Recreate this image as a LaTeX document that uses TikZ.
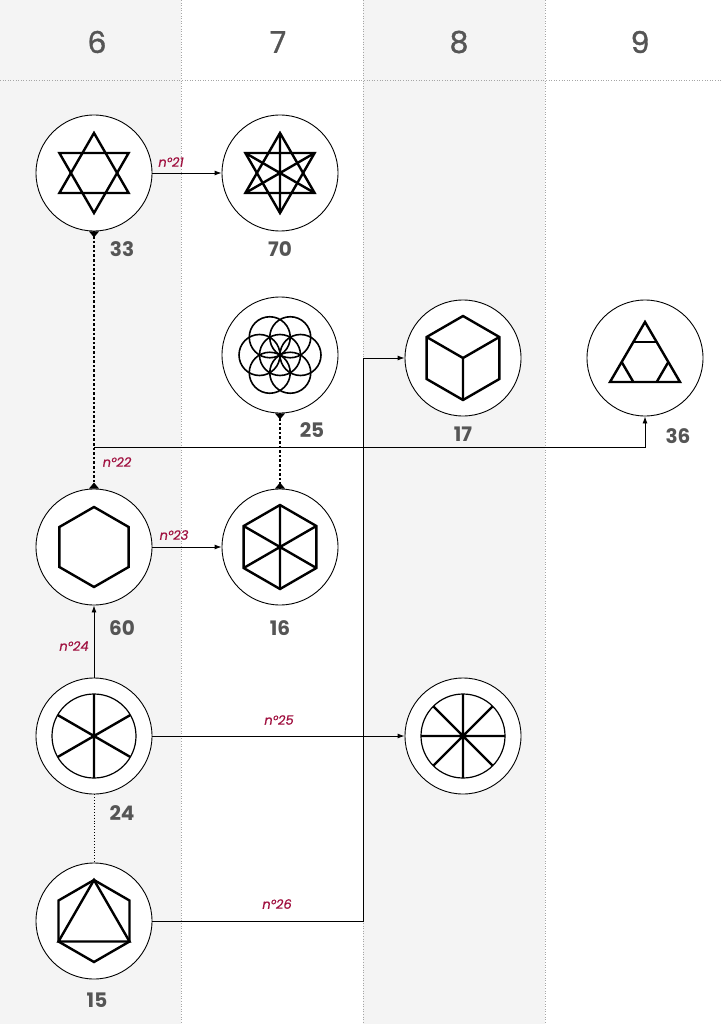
\documentclass[tikz,border=0pt]{standalone}
\usepackage{fontspec}
\setmainfont{Poppins}
\usetikzlibrary{arrows.meta}
\definecolor{bgg}{HTML}{F4F4F4}
\definecolor{numc}{HTML}{555555}
\definecolor{lblc}{HTML}{A0103F}
\begin{document}
\begin{tikzpicture}[x=1pt,y=-1pt,
  ring/.style={circle,draw=black,line width=0.9pt,fill=white,minimum size=116pt,inner sep=0pt},
  icon/.style={line width=2.4pt,line join=miter},
  num/.style={font=\bfseries\fontsize{20}{20}\selectfont,text=numc},
  head/.style={font=\fontsize{30}{30}\selectfont\addfontfeatures{FakeBold=1.2},text=numc},
  lbl/.style={font=\itshape\fontsize{13}{13}\selectfont\addfontfeatures{FakeBold=0.6},text=lblc},
  conn/.style={line width=0.9pt,-{Latex[length=7pt,width=5pt]}},
  dots/.style={line width=2.6pt,dotted},
  sep/.style={gray!70,line width=0.6pt,dotted}]
\useasboundingbox (0,0) rectangle (722,1024);
\fill[white] (0,0) rectangle (722,1024);
\fill[bgg] (0,0) rectangle (181,1024);
\fill[bgg] (363,0) rectangle (545,1024);
\draw[sep] (181,0) -- (181,1024);
\draw[sep] (363,0) -- (363,1024);
\draw[sep] (545,0) -- (545,1024);
\draw[sep] (0,80) -- (722,80);
\node[head] (h6) at (97,42) {6};
\node[head] (h7) at (278,42) {7};
\node[head] (h8) at (459,42) {8};
\node[head] (h9) at (640,42) {9};

\coordinate (j22) at (94,447);
\coordinate (c36) at (645,447);
\coordinate (k26a) at (363,921);
\coordinate (k26b) at (363,358);

\node[ring] (n33) at (94,173) {};
\node[ring] (n70) at (280,173) {};
\node[ring] (n25) at (280,355) {};
\node[ring] (n17) at (463,358) {};
\node[ring] (n36) at (645,358) {};
\node[ring] (n60) at (94,547) {};
\node[ring] (n16) at (280,547) {};
\node[ring] (n24) at (94,736) {};
\node[ring] (n8s) at (463,736) {};
\node[ring] (n15) at (94,921) {};

\draw[dots] (n33.south) -- (n60.north);
\draw[dots] (n25.south) -- (n16.north);
\foreach \n in {n33,n25}{\fill (\n.south) ++(-5,0) -- ++(10,0) -- ++(-5,6) -- cycle;}
\foreach \n in {n60,n16}{\fill (\n.north) ++(-5,0) -- ++(10,0) -- ++(-5,-6) -- cycle;}
\draw[line width=0.9pt,dotted] (n24.south) -- (n15.north);
\draw[conn] (n33.east) -- (n70.west);
\draw[conn] (j22) -- (c36) -- (n36.south);
\draw[conn] (n60.east) -- (n16.west);
\draw[conn] (n24.north) -- (n60.south);
\draw[conn] (n24.east) -- (n8s.west);
\draw[conn] (n15.east) -- (k26a) -- (k26b) -- (n17.west);

\node[lbl] (l21) at (171,162) {n°21};
\node[lbl] (l22) at (117,462) {n°22};
\node[lbl] (l23) at (174,535) {n°23};
\node[lbl] (l24) at (74,646) {n°24};
\node[lbl] (l25) at (279,720) {n°25};
\node[lbl] (l26) at (277,904) {n°26};

\node[num] (t33) at (122,249) {33};
\node[num] (t70) at (280,249) {70};
\node[num] (t25) at (312,430) {25};
\node[num] (t17) at (463,434) {17};
\node[num] (t36) at (678,436) {36};
\node[num] (t60) at (122,628) {60};
\node[num] (t16) at (280,628) {16};
\node[num] (t24) at (122,813) {24};
\node[num] (t15) at (97,1000) {15};

% icons (angles: 270 = screen up)
\begin{scope}[shift={(n33.center)},icon]
 \draw (270:40) -- (30:40) -- (150:40) -- cycle;
 \draw (90:40) -- (210:40) -- (330:40) -- cycle;
\end{scope}
\begin{scope}[shift={(n70.center)},icon]
 \draw (270:40) -- (30:40) -- (150:40) -- cycle;
 \draw (90:40) -- (210:40) -- (330:40) -- cycle;
 \draw (90:40) -- (270:40) (30:40) -- (210:40) (150:40) -- (330:40);
\end{scope}
\begin{scope}[shift={(n25.center)},line width=1.6pt]
 \draw (0,0) circle (20.5);
 \foreach \a in {0,60,...,300} \draw (\a:20.5) circle (20.5);
\end{scope}
\begin{scope}[shift={(n17.center)},icon]
 \draw (90:42) -- (150:42) -- (210:42) -- (270:42) -- (330:42) -- (30:42) -- cycle;
 \draw (0,0) -- (90:42) (0,0) -- (210:42) (0,0) -- (330:42);
\end{scope}
\begin{scope}[shift={(645,362)},icon]
 \draw (0,-40) -- (35,20) -- (-35,20) -- cycle;
 \draw (-11.67,-20) -- (11.67,-20);
 \draw (-23.33,0) -- (-11.67,20);
 \draw (23.33,0) -- (11.67,20);
\end{scope}
\begin{scope}[shift={(n60.center)},icon]
 \draw[fill=white] (90:40) -- (150:40) -- (210:40) -- (270:40) -- (330:40) -- (30:40) -- cycle;
\end{scope}
\begin{scope}[shift={(n16.center)},icon]
 \draw (90:42) -- (150:42) -- (210:42) -- (270:42) -- (330:42) -- (30:42) -- cycle;
 \draw (90:42) -- (270:42) (150:42) -- (330:42) (30:42) -- (210:42);
\end{scope}
\begin{scope}[shift={(n24.center)}]
 \draw[line width=1.2pt] (0,0) circle (42);
 \draw[icon] (90:42) -- (270:42) (30:42) -- (210:42) (150:42) -- (330:42);
\end{scope}
\begin{scope}[shift={(n8s.center)}]
 \draw[line width=1.2pt] (0,0) circle (42);
 \draw[icon] (90:42) -- (270:42) (0:42) -- (180:42) (45:42) -- (225:42) (135:42) -- (315:42);
\end{scope}
\begin{scope}[shift={(n15.center)},icon]
 \draw (90:41) -- (150:41) -- (210:41) -- (270:41) -- (330:41) -- (30:41) -- cycle;
 \draw (270:41) -- (30:41) -- (150:41) -- cycle;
\end{scope}
\end{tikzpicture}
\end{document}
